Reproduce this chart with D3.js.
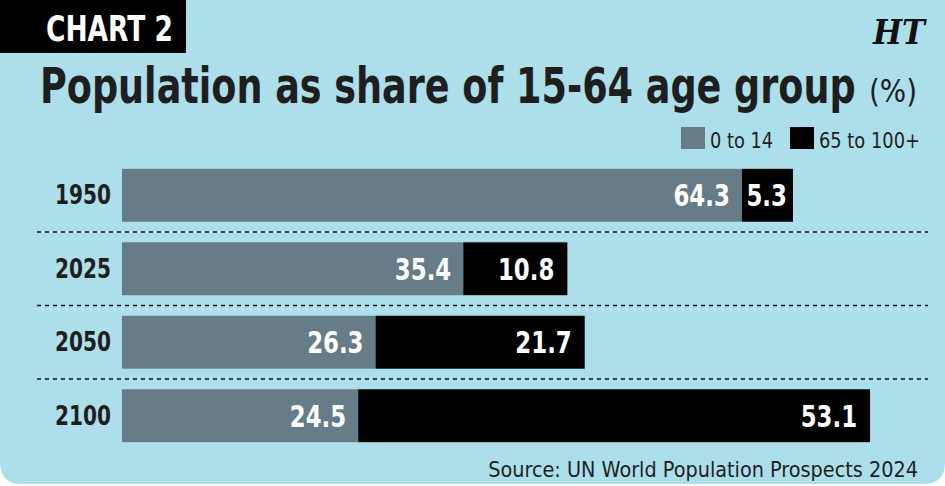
<!DOCTYPE html>
<html>
<head>
<meta charset="utf-8">
<script src="https://cdn.jsdelivr.net/npm/d3@7/dist/d3.min.js"></script>
<style>
  body { margin: 0; background: #fff; }
  svg { display: block; }
</style>
</head>
<body>
<svg id="chart" width="945" height="486"></svg>
<script>
// data
var years = ['1950', '2025', '2050', '2100'];
var young = [64.3, 35.4, 26.3, 24.5];   // 0 to 14
var old = [5.3, 10.8, 21.7, 53.1];      // 65 to 100+
var seriesNames = ['0 to 14', '65 to 100+'];
var seriesColors = ['#667c89', '#000000'];

var W = 945, H = 486;
var condensed = "'DejaVu Sans Condensed', 'Liberation Sans Narrow', 'Roboto', sans-serif";

var svg = d3.select('#chart');

// put a text at (x, y) and squeeze it horizontally; the fonts here are wider
// than the original one. k < 1 is a factor, k > 1 is a target width in px
function placeSqueezed(sel, px, py, k) {
  sel.each(function (d, i) {
    var node = d3.select(this);
    var w = this.getComputedTextLength();
    var kk = typeof k === 'function' ? k(d, i) : k;
    var s = kk > 1 ? kk / w : kk;
    var xx = typeof px === 'function' ? px(d, i) : px;
    var yy = typeof py === 'function' ? py(d, i) : py;
    node.attr('x', 0).attr('y', 0)
      .attr('transform', 'translate(' + xx + ',' + yy + ') scale(' + s + ',1)');
  });
}

// background panel, rounded at the bottom
var r = 22;
svg.append('path')
  .attr('d', 'M0,0 H' + W + ' V' + (484 - r) + ' Q' + W + ',484 ' + (W - r) + ',484 H' + r + ' Q0,484 0,' + (484 - r) + ' Z')
  .attr('fill', '#addfea');

// chart tag
svg.append('rect').attr('x', 0).attr('y', 0).attr('width', 186).attr('height', 53).attr('fill', '#000');
svg.append('text')
  .style('font-family', condensed).style('font-weight', 700).style('font-size', '36px')
  .attr('fill', '#fff')
  .text('CHART 2')
  .call(placeSqueezed, 46, 41, 127);

// HT logo
svg.append('text')
  .attr('text-anchor', 'end')
  .style('font-family', "'DejaVu Serif', serif").style('font-weight', 700).style('font-style', 'italic').style('font-size', '34px')
  .attr('fill', '#111')
  .text('HT')
  .call(placeSqueezed, 925, 44, 52);

// title
svg.append('text')
  .style('font-family', condensed).style('font-weight', 700).style('font-size', '50px')
  .attr('fill', '#1e1e1e')
  .text('Population as share of 15-64 age group')
  .call(placeSqueezed, 40, 103, 816);
svg.append('text')
  .style('font-family', condensed).style('font-weight', 400).style('font-size', '32px')
  .attr('fill', '#1e1e1e')
  .text('(%)')
  .call(placeSqueezed, 869, 102, 48);

// legend
var legendX = [681, 790];
var legendW = [63, 101];
seriesNames.forEach(function (name, i) {
  svg.append('rect')
    .attr('x', legendX[i]).attr('y', 127).attr('width', 24).attr('height', 22)
    .attr('fill', seriesColors[i]);
  svg.append('text')
    .style('font-family', condensed).style('font-size', '22px')
    .attr('fill', '#1e1e1e')
    .text(name)
    .call(placeSqueezed, legendX[i] + 29, 148, legendW[i]);
});

// scales
var x = d3.scaleLinear().domain([0, 80]).range([122, 122 + 80 * 9.64]);
var y = d3.scaleBand().domain(years).range([160, 451]).paddingInner(0.28).paddingOuter(0.12);

var rows = years.map(function (yr, i) {
  return { year: yr, young: young[i], old: old[i] };
});

// dotted separators
svg.selectAll('.sep')
  .data(years.slice(1))
  .enter().append('line')
  .attr('class', 'sep')
  .attr('x1', 37).attr('x2', 928)
  .attr('y1', function (d) { return y(d) - y.step() * y.paddingInner() / 2; })
  .attr('y2', function (d) { return y(d) - y.step() * y.paddingInner() / 2; })
  .attr('stroke', '#111').attr('stroke-width', 1.6)
  .attr('stroke-dasharray', '4,4');

var row = svg.selectAll('.row')
  .data(rows)
  .enter().append('g')
  .attr('class', 'row');

row.append('rect')
  .attr('x', x(0))
  .attr('y', function (d) { return y(d.year); })
  .attr('width', function (d) { return x(d.young) - x(0); })
  .attr('height', y.bandwidth())
  .attr('fill', seriesColors[0]);

row.append('rect')
  .attr('x', function (d) { return x(d.young); })
  .attr('y', function (d) { return y(d.year); })
  .attr('width', function (d) { return x(d.young + d.old) - x(d.young); })
  .attr('height', y.bandwidth())
  .attr('fill', seriesColors[1]);

// year labels
row.append('text')
  .attr('text-anchor', 'end')
  .style('font-family', condensed).style('font-weight', 700).style('font-size', '26px')
  .attr('fill', '#1e1e1e')
  .text(function (d) { return d.year; })
  .call(placeSqueezed, 111, function (d) { return y(d.year) + y.bandwidth() / 2 + 9; }, 0.86);

// value labels
row.append('text')
  .attr('text-anchor', 'end')
  .style('font-family', condensed).style('font-weight', 700).style('font-size', '31px')
  .attr('fill', '#fff')
  .text(function (d) { return d.young.toFixed(1); })
  .call(placeSqueezed, function (d) { return x(d.young) - 12; },
    function (d) { return y(d.year) + y.bandwidth() / 2 + 11; }, 0.82);

row.append('text')
  .attr('text-anchor', 'end')
  .style('font-family', condensed).style('font-weight', 700).style('font-size', '31px')
  .attr('fill', '#fff')
  .text(function (d) { return d.old.toFixed(1); })
  .call(placeSqueezed, function (d) { return x(d.young + d.old) - (d.old < 8 ? 6 : 13); },
    function (d) { return y(d.year) + y.bandwidth() / 2 + 11; }, 0.82);

// source
svg.append('text')
  .attr('text-anchor', 'end')
  .style('font-family', condensed).style('font-size', '22px')
  .attr('fill', '#1e1e1e')
  .text('Source: UN World Population Prospects 2024')
  .call(placeSqueezed, 918, 477, 430);
</script>
</body>
</html>
